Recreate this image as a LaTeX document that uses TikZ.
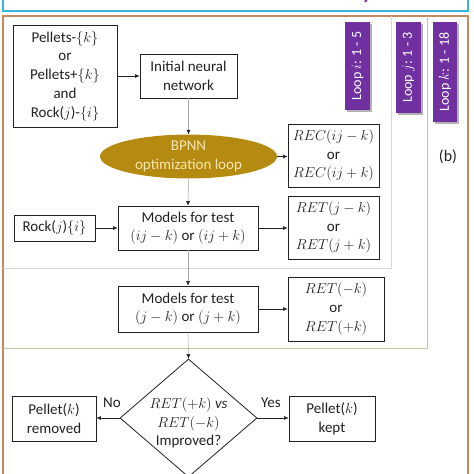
\documentclass[tikz,border=0pt]{standalone}
\usepackage{fontspec}
\setmainfont{Carlito}
\usetikzlibrary{shapes.geometric,arrows.meta}
\definecolor{brownb}{HTML}{C08A64}
\definecolor{cyanb}{HTML}{3AB4D8}
\definecolor{loopi}{HTML}{D8D8CE}
\definecolor{loopj}{HTML}{BFC9A6}
\definecolor{purp}{HTML}{7030A0}
\definecolor{goldf}{HTML}{B58A10}
\definecolor{goldtxt}{HTML}{F6E6B0}
\definecolor{ink}{HTML}{222222}
\tikzset{
  box/.style={draw=ink, line width=0.8pt, fill=white, align=center, inner sep=0pt, text=ink,
    font=\fontsize{15}{18.8}\selectfont},
  arr/.style={-{Latex[length=4.5pt,width=4pt,color=ink]}, line width=0.5pt, draw=ink},
  garr/.style={-{Latex[length=4.5pt,width=4pt,color=ink]}, line width=0.5pt, draw=black!35},
  looplab/.style={fill=purp, text=white, rotate=90, inner sep=0pt,
    font=\fontsize{14}{14}\selectfont},
  shadowbox/.style={fill=black!30},
  lbl/.style={text=ink, font=\fontsize{15}{15}\selectfont}
}
\begin{document}
\begin{tikzpicture}[x=1pt,y=-1pt]
\useasboundingbox (0,0) rectangle (474,474);
\clip (0,0) rectangle (474,474);
\fill[white] (0,0) rectangle (474,474);
% top cropped title box
\draw[cyanb, line width=1.2pt] (3,-6) rectangle (468,11);
\node[anchor=base, text=purp, font=\bfseries\fontsize{20}{20}\selectfont] (ttl) at (367,-1) {y};
% outer frame (loop k)
\draw[brownb, line width=1.5pt] (3,16) rectangle (468,500);
% loop regions
\draw[loopi, line width=1pt] (391,16) -- (391,268) -- (3,268);
\draw[loopj, line width=1pt] (427,16) -- (427,348) -- (3,348);
% loop labels
\fill[shadowbox] (347,24) rectangle (372,112);
\fill[purp] (345,22) rectangle (370,110);
\node[looplab] (li) at (357.5,66) {Loop $i$: 1 - 5};
\fill[shadowbox] (398,24) rectangle (423,115);
\fill[purp] (396,22) rectangle (421,113);
\node[looplab] (lj) at (408.5,67.5) {Loop $j$: 1 - 3};
\fill[shadowbox] (435,24) rectangle (459,124);
\fill[purp] (433,22) rectangle (457,122);
\node[looplab] (lk) at (445,72) {Loop $k$: 1 - 18};
\node[text=ink, font=\fontsize{16}{16}\selectfont] (b) at (448,157) {(b)};
% nodes
\node[box, minimum width=104, minimum height=102] (inp) at (65,76)
  {Pellets-$\{k\}$\\or\\Pellets+$\{k\}$\\and\\Rock($j$)-$\{i\}$};
\node[box, minimum width=97, minimum height=44] (init) at (188.5,76) {Initial neural\\network};
\node[ellipse, fill=goldf, minimum width=177, minimum height=43, inner sep=0pt, align=center,
  text=goldtxt, font=\fontsize{15}{19}\selectfont] (ell) at (188.5,156.5) {BPNN\\optimization loop};
\node[box, minimum width=91, minimum height=63] (rec) at (333.5,155.5)
  {$REC(ij-k)$\\or\\$REC(ij+k)$};
\node[box, minimum width=81, minimum height=26] (rock) at (54.5,228) {Rock($j$)$\{i\}$};
\node[box, minimum width=140, minimum height=44] (m1) at (188,228) {Models for test\\$(ij-k)$ or $(ij+k)$};
\node[box, minimum width=91, minimum height=63] (ret1) at (333.5,227.5)
  {$RET(j-k)$\\or\\$RET(j+k)$};
\node[box, minimum width=140, minimum height=46] (m2) at (188,309) {Models for test\\$(j-k)$ or $(j+k)$};
\node[box, minimum width=96, minimum height=64] (ret2) at (336,309)
  {$RET(-k)$\\or\\$RET(+k)$};
\node[diamond, draw=ink, line width=0.8pt, fill=white, minimum width=137, minimum height=118,
  inner sep=0pt] (dec) at (188.5,418) {};
\node[align=center, text=ink, font=\fontsize{15}{18.5}\selectfont] (dectxt) at (188.5,423)
  {$RET(+k)$ \textit{vs}\\$RET(-k)$\\Improved?};
\node[box, minimum width=84, minimum height=45] (rem) at (54,418.5) {Pellet($k$)\\removed};
\node[box, minimum width=86, minimum height=45] (kept) at (332,418.5) {Pellet($k$)\\kept};
\coordinate (out) at (188.5,500);
% connectors
\draw[arr] (inp.east |- init.west) -- (init.west);
\draw[garr] (init.south) -- (ell.north);
\draw[arr] (ell.east) -- (rec.west |- ell.east);
\draw[garr] (ell.south) -- (m1.north);
\draw[arr] (rock.east) -- (m1.west);
\draw[arr] (m1.east) -- (ret1.west |- m1.east);
\draw[garr] (m1.south) -- (m2.north);
\draw[arr] (m2.east) -- (ret2.west);
\draw[garr] (m2.south) -- (dec.north);
\draw[arr] (dec.west) -- (rem.east |- dec.west);
\draw[arr] (dec.east) -- (kept.west |- dec.east);
\draw[line width=0.5pt, draw=ink] (dec.south) -- (out);
\node[lbl] (no) at (112,403) {No};
\node[lbl] (yes) at (271,403) {Yes};
\end{tikzpicture}
\end{document}
